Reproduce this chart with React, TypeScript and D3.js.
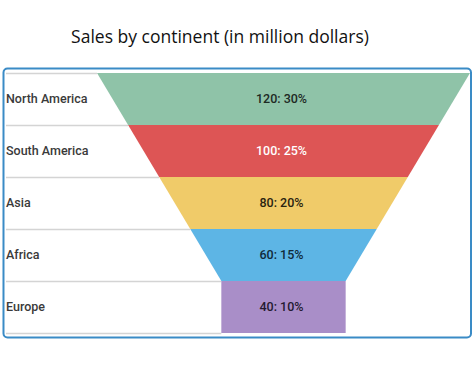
import React from "react";
import * as d3 from "d3";

const categories = ["North America", "South America", "Asia", "Africa", "Europe"];
const values = [120, 100, 80, 60, 40];
const percents = ["30%", "25%", "20%", "15%", "10%"];
const colors = ["#8fc3a8", "#dd5555", "#f0cb69", "#5db5e5", "#a98ec8"];
const textColors = ["#1e2a24", "#ffffff", "#2a2410", "#102a3a", "#241a30"];
const title = "Sales by continent (in million dollars)";

export default function App() {
  const W = 474, H = 379;
  const top = 73, bottom = 333;
  const cx = 283.5;
  const y = d3.scaleBand<string>().domain(categories).range([top, bottom]).paddingInner(0).paddingOuter(0);
  const w = d3.scaleLinear().domain([0, 120]).range([0, 373]);
  const rows = categories.map((c, i) => {
    const y0 = y(c)!;
    const y1 = y0 + y.bandwidth();
    const wTop = w(values[i]);
    const wBot = i < values.length - 1 ? w(values[i + 1]) : w(values[i]);
    return { c, i, y0, y1, wTop, wBot };
  });
  const line = d3.line<[number, number]>();
  return (
    <svg width={W} height={H} style={{ position: "absolute", left: 0, top: 0, background: "#fff" }}>
      <text x={220} y={43} textAnchor="middle" fontFamily="'Open Sans', sans-serif" fontSize={17.5} fill="#111">
        {title}
      </text>
      <rect x={3.5} y={68.5} width={467.5} height={269} rx={4} fill="#fff" stroke="#3a8bc6" strokeWidth={2} />
      {rows.map((r) => (
        <line key={"g" + r.i} x1={6} x2={cx - r.wTop / 2} y1={r.y0 + 0.5} y2={r.y0 + 0.5} stroke="#d4d4d4" strokeWidth={1.5} />
      ))}
      <line x1={6} x2={cx - w(values[values.length - 1]) / 2} y1={bottom + 0.5} y2={bottom + 0.5} stroke="#d4d4d4" strokeWidth={1.5} />
      {rows.map((r) => (
        <path
          key={"p" + r.i}
          d={line([
            [cx - r.wTop / 2, r.y0],
            [cx + r.wTop / 2, r.y0],
            [cx + r.wBot / 2, r.y1],
            [cx - r.wBot / 2, r.y1],
          ])! + "Z"}
          fill={colors[r.i]}
        />
      ))}
      {rows.map((r) => (
        <text key={"l" + r.i} x={6} y={(r.y0 + r.y1) / 2} dy="0.35em" fontFamily="Roboto, sans-serif" fontWeight={500} fontSize={12.5} fill="#3a3a3a">
          {r.c}
        </text>
      ))}
      {rows.map((r) => (
        <text key={"v" + r.i} x={cx - 2} y={(r.y0 + r.y1) / 2} dy="0.35em" textAnchor="middle" fontFamily="Roboto, sans-serif" fontWeight={500} fontSize={12.5} fill={textColors[r.i]}>
          {`${values[r.i]}: ${percents[r.i]}`}
        </text>
      ))}
    </svg>
  );
}
